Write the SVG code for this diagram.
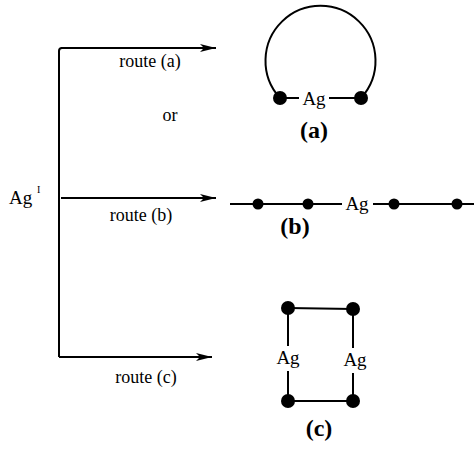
<svg xmlns="http://www.w3.org/2000/svg" width="474" height="474" viewBox="0 0 474 474">
<style>
.t{font-family:"Liberation Serif",serif;fill:#000}
.r{font-size:18px}
.ag{font-size:19px}
.lb{font-size:24px;font-weight:bold}
.ln{stroke:#000;stroke-width:2;fill:none}
.dot{fill:#000}
</style>
<defs>
<marker id="ah" markerWidth="16" markerHeight="8" refX="16" refY="4" orient="auto" markerUnits="userSpaceOnUse">
<path d="M0,0 L16,4 L0,8 L4,4 Z" fill="#000"/>
</marker>
</defs>
<rect width="474" height="474" fill="#fff"/>
<g id="connectors">
<path class="ln" d="M59,357 V51 Q59,48 62,48"/>
<path class="ln" d="M61,48 H216" marker-end="url(#ah)"/>
<path class="ln" d="M61,198 H216" marker-end="url(#ah)"/>
<path class="ln" d="M59,357 H212" marker-end="url(#ah)"/>
</g>
<g id="source">
<text class="t ag" x="9" y="204">Ag</text>
<text class="t" x="37" y="193" font-size="10">I</text>
</g>
<g id="labels">
<text class="t r" x="150" y="67" text-anchor="middle">route (a)</text>
<text class="t r" x="170" y="121" text-anchor="middle">or</text>
<text class="t r" x="141" y="221" text-anchor="middle">route (b)</text>
<text class="t r" x="146" y="383" text-anchor="middle">route (c)</text>
</g>
<g id="product-a">
<path class="ln" d="M280,98 A55,55 0 1 1 361,98"/>
<line class="ln" x1="280" y1="98" x2="299" y2="98"/>
<line class="ln" x1="329" y1="98" x2="361" y2="98"/>
<circle class="dot" cx="280" cy="98" r="7"/>
<circle class="dot" cx="361" cy="98" r="7"/>
<text class="t ag" x="314" y="105" text-anchor="middle">Ag</text>
<text class="t lb" x="314" y="138" text-anchor="middle">(a)</text>
</g>
<g id="product-b">
<line class="ln" x1="230" y1="204" x2="342" y2="204"/>
<line class="ln" x1="373" y1="204" x2="474" y2="204"/>
<circle class="dot" cx="258" cy="204" r="5.5"/>
<circle class="dot" cx="308" cy="204" r="5.5"/>
<circle class="dot" cx="394" cy="204" r="5.5"/>
<circle class="dot" cx="457" cy="204" r="5.5"/>
<text class="t ag" x="357" y="210" text-anchor="middle">Ag</text>
<text class="t lb" x="295" y="234" text-anchor="middle">(b)</text>
</g>
<g id="product-c">
<line class="ln" x1="288" y1="308" x2="353" y2="309"/>
<line class="ln" x1="288" y1="401" x2="353" y2="401"/>
<line class="ln" x1="288" y1="308" x2="288" y2="346"/>
<line class="ln" x1="288" y1="371" x2="288" y2="401"/>
<line class="ln" x1="353" y1="309" x2="353" y2="348"/>
<line class="ln" x1="353" y1="373" x2="353" y2="401"/>
<circle class="dot" cx="288" cy="308" r="7"/>
<circle class="dot" cx="353" cy="309" r="7"/>
<circle class="dot" cx="288" cy="401" r="7"/>
<circle class="dot" cx="353" cy="401" r="7"/>
<text class="t ag" x="288" y="364" text-anchor="middle">Ag</text>
<text class="t ag" x="355" y="366" text-anchor="middle">Ag</text>
<text class="t lb" x="319" y="436" text-anchor="middle">(c)</text>
</g>
</svg>
